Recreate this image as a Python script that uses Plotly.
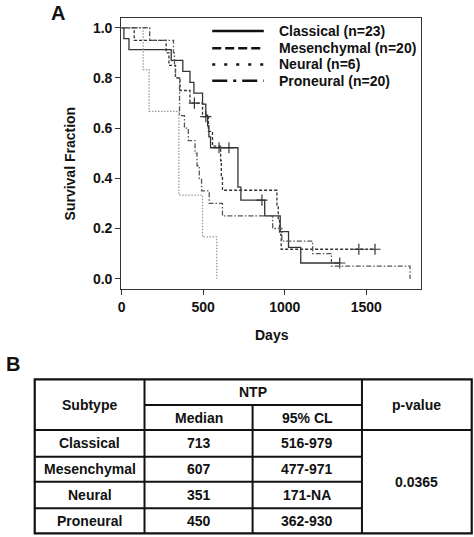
import plotly.graph_objects as go

# ---------------- data ----------------
subtypes = ["Classical", "Mesenchymal", "Neural", "Proneural"]
n_patients = [23, 20, 6, 20]

classical_events = [14, 45, 304, 375, 419, 443, 496, 516, 527, 535, 545,
                    713, 713, 713, 731, 877, 972, 1023, 1098]
classical_censored = [597, 658, 860, 1337]
mesenchymal_events = [77, 273, 290, 330, 358, 419, 496, 532, 557,
                      607, 611, 618, 952, 960, 968, 978]
mesenchymal_censored = [446, 516, 1454, 1553]
neural_events = [132, 168, 351, 351, 496, 583]
neural_censored = []
proneural_events = [172, 318, 324, 330, 355, 355, 355, 385, 409, 450,
                    462, 476, 490, 537, 618, 926, 982, 1171, 1286, 1768]
proneural_censored = []

x_ticks = [0, 500, 1000, 1500]
y_ticks = [0.0, 0.2, 0.4, 0.6, 0.8, 1.0]

table_col_header = ["Subtype", "NTP", "Median", "95% CL", "p-value"]
median_days = [713, 607, 351, 450]
ci_95 = ["516-979", "477-971", "171-NA", "362-930"]
p_value = "0.0365"

# ---------------- helpers ----------------
W, H = 474, 537
FONT = "Liberation Sans, Arial, Helvetica, sans-serif"


def px(x):
    return x / W


def py(y):
    return 1 - y / H


def km_curve(events, censored):
    times = sorted(set(events) | set(censored))
    at_risk = len(events) + len(censored)
    s = 1.0
    xs, ys, cx, cy = [0], [1.0], [], []
    for t in times:
        d = events.count(t)
        c = censored.count(t)
        if d:
            s *= (at_risk - d) / at_risk
            xs.append(t)
            ys.append(s)
        if c:
            cx.append(t)
            cy.append(s)
        at_risk -= d + c
    if xs[-1] != times[-1]:
        xs.append(times[-1])
        ys.append(s)
    return xs, ys, cx, cy


series = [
    (classical_events, classical_censored),
    (mesenchymal_events, mesenchymal_censored),
    (neural_events, neural_censored),
    (proneural_events, proneural_censored),
]
line_styles = [
    dict(color="#333333", width=1.3, dash="solid"),
    dict(color="#333333", width=1.3, dash="3px,2px"),
    dict(color="#9a9a9a", width=1.3, dash="1.5px,1.5px"),
    dict(color="#555555", width=1.3, dash="5px,2px,1.5px,2px"),
]
legend_dash = ["solid", "9px,4px", "3px,9px", "15px,6px,3px,6px"]

fig = go.Figure()
for name, (ev, ce), st in zip(subtypes, series, line_styles):
    xs, ys, cx, cy = km_curve(ev, ce)
    fig.add_trace(go.Scatter(x=xs, y=ys, mode="lines", line_shape="hv",
                             line=st, name=name, showlegend=False))
    if cx:
        fig.add_trace(go.Scatter(x=cx, y=cy, mode="markers", showlegend=False,
                                 marker=dict(symbol="cross-thin", size=8,
                                             line=dict(color="#333333", width=1.2))))

axis_common = dict(showline=True, mirror=True, linecolor="#333333", linewidth=1.3,
                   ticks="outside", ticklen=5, tickwidth=1.3, tickcolor="#333333",
                   showgrid=False, zeroline=False,
                   tickfont=dict(family=FONT, size=14, color="#111111", weight="bold"))

fig.update_layout(
    width=W, height=H,
    margin=dict(l=0, r=0, t=0, b=0, pad=0),
    paper_bgcolor="white", plot_bgcolor="white",
    showlegend=False,
    xaxis=dict(domain=[px(118.3), px(420.7)], range=[-2, 1836],
               tickvals=x_ticks, **axis_common),
    yaxis=dict(domain=[py(289), py(17.7)], range=[-0.041, 1.04],
               tickvals=y_ticks, tickformat=".1f", **axis_common),
)

annotations = []
shapes = []
txt = dict(family=FONT, size=14, color="#111111", weight="bold")

# axis titles
annotations.append(dict(text="Days", x=px(270), y=py(334.5), xref="paper", yref="paper",
                        showarrow=False, font=txt, xanchor="center", yanchor="middle"))
annotations.append(dict(text="Survival Fraction", x=px(67), y=py(163), xref="paper",
                        yref="paper", showarrow=False, font=txt, textangle=-90,
                        xanchor="center", yanchor="middle"))
# panel letters
for letter, lx, ly in [("A", 54, 12.7), ("B", 9, 364)]:
    annotations.append(dict(text=letter, x=px(lx), y=py(ly), xref="paper", yref="paper",
                            showarrow=False, xanchor="center", yanchor="middle",
                            font=dict(family=FONT, size=20, color="#111111", weight="bold")))

# manual legend
leg_rows = [31, 48.3, 64.5, 80.7]
for name, n, dsh, ly in zip(subtypes, n_patients, legend_dash, leg_rows):
    shapes.append(dict(type="line", xref="paper", yref="paper",
                       x0=px(210), x1=px(262), y0=py(ly), y1=py(ly),
                       line=dict(color="#111111", width=2.5, dash=dsh)))
    annotations.append(dict(text=f"{name} (n={n})", x=px(275), y=py(ly), xref="paper",
                            yref="paper", showarrow=False, font=txt,
                            xanchor="left", yanchor="middle"))

# table
col_x = [31, 141.7, 250.7, 361, 471.7]
row_y = [379.3, 405, 430, 456.7, 481.7, 508.3, 533.3]


def hline(y, x0, x1, w=2):
    shapes.append(dict(type="line", xref="paper", yref="paper", x0=px(x0), x1=px(x1),
                       y0=py(y), y1=py(y), line=dict(color="#111111", width=w)))


def vline(x, y0, y1, w=2):
    shapes.append(dict(type="line", xref="paper", yref="paper", x0=px(x), x1=px(x),
                       y0=py(y0), y1=py(y1), line=dict(color="#111111", width=w)))


shapes.append(dict(type="rect", xref="paper", yref="paper", x0=px(col_x[0]), x1=px(col_x[4]),
                   y0=py(row_y[0]), y1=py(row_y[-1]), line=dict(color="#111111", width=2.2)))
vline(col_x[1], row_y[0], row_y[-1])
vline(col_x[3], row_y[0], row_y[-1])
vline(col_x[2], row_y[1], row_y[-1])
hline(row_y[1], col_x[1], col_x[3])
hline(row_y[2], col_x[0], col_x[4])
for r in row_y[3:-1]:
    hline(r, col_x[0], col_x[3])


def cell(text, x, y):
    annotations.append(dict(text=str(text), x=px(x), y=py(y), xref="paper", yref="paper",
                            showarrow=False, font=txt, xanchor="center", yanchor="middle"))


cx_mid = [(col_x[i] + col_x[i + 1]) / 2 for i in range(4)]
cell(table_col_header[0], cx_mid[0], (row_y[0] + row_y[2]) / 2)
cell(table_col_header[1], (col_x[1] + col_x[3]) / 2, (row_y[0] + row_y[1]) / 2)
cell(table_col_header[2], cx_mid[1], (row_y[1] + row_y[2]) / 2)
cell(table_col_header[3], cx_mid[2], (row_y[1] + row_y[2]) / 2)
cell(table_col_header[4], cx_mid[3], (row_y[0] + row_y[2]) / 2)
for i, (s, m, c) in enumerate(zip(subtypes, median_days, ci_95)):
    yc = (row_y[2 + i] + row_y[3 + i]) / 2
    cell(s, cx_mid[0], yc)
    cell(m, cx_mid[1], yc)
    cell(c, cx_mid[2], yc)
cell(p_value, cx_mid[3], (row_y[2] + row_y[-1]) / 2)

fig.update_layout(annotations=annotations, shapes=shapes)
fig.write_html("out.html", config={"displayModeBar": False},
               post_script="document.body.style.margin='0';document.body.style.overflow='hidden';")
